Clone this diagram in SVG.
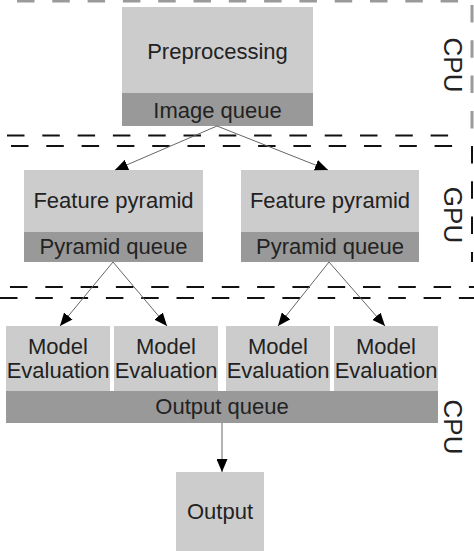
<svg xmlns="http://www.w3.org/2000/svg" width="474" height="551" viewBox="0 0 474 551">
<defs>
<style>
.lt{fill:#cccccc}
.dk{fill:#999999}
.t{font-family:"Liberation Sans",Arial,sans-serif;font-size:22px;fill:#222;text-anchor:middle}
.side{font-family:"Liberation Sans",Arial,sans-serif;font-size:26px;fill:#222;text-anchor:middle}
.dash{stroke:#111;stroke-width:2;stroke-dasharray:17.5 17.8;fill:none}
.gdash{stroke:#9a9a9a;stroke-width:3;stroke-dasharray:17.5 17.8;fill:none}
.conn{stroke:#666;stroke-width:1;fill:none;marker-end:url(#ah)}
</style>
<marker id="ah" markerUnits="userSpaceOnUse" markerWidth="14" markerHeight="11" refX="13" refY="5.5" orient="auto">
<path d="M0,0 L13,5.5 L0,11 z" fill="#000"/>
</marker>
</defs>
<g id="separators">
<line class="gdash" x1="17" y1="1" x2="462" y2="1"/>
<line class="gdash" x1="472" y1="5" x2="472" y2="130"/>
<line class="dash" x1="7" y1="135.5" x2="463" y2="135.5"/>
<line class="dash" x1="11" y1="146" x2="453" y2="146"/>
<line class="dash" x1="472" y1="146" x2="472" y2="262"/>
<line class="dash" x1="10" y1="287" x2="474" y2="287"/>
<line class="dash" x1="0" y1="298" x2="474" y2="298"/>
</g>
<g id="labels">
<text class="side" x="444" y="65" transform="rotate(90 444 65)">CPU</text>
<text class="side" x="444" y="215" transform="rotate(90 444 215)">GPU</text>
<text class="side" x="444" y="427" transform="rotate(90 444 427)">CPU</text>
</g>
<g id="preprocessing">
<rect class="lt" x="122" y="7" width="191" height="86"/>
<rect class="dk" x="122" y="93" width="191" height="33"/>
<text class="t" x="217.5" y="59">Preprocessing</text>
<text class="t" x="217.5" y="118">Image queue</text>
</g>
<g id="pyramid1">
<rect class="lt" x="24" y="170" width="179" height="62"/>
<rect class="dk" x="24" y="232" width="179" height="30"/>
<text class="t" x="113.5" y="208">Feature pyramid</text>
<text class="t" x="113.5" y="254">Pyramid queue</text>
</g>
<g id="pyramid2">
<rect class="lt" x="241" y="170" width="178" height="62"/>
<rect class="dk" x="241" y="232" width="178" height="30"/>
<text class="t" x="330" y="208">Feature pyramid</text>
<text class="t" x="330" y="254">Pyramid queue</text>
</g>
<g id="model1">
<rect class="lt" x="6" y="326" width="104" height="65"/>
<text class="t" x="58" y="354">Model</text>
<text class="t" x="58" y="378">Evaluation</text>
</g>
<g id="model2">
<rect class="lt" x="114" y="326" width="104" height="65"/>
<text class="t" x="166" y="354">Model</text>
<text class="t" x="166" y="378">Evaluation</text>
</g>
<g id="model3">
<rect class="lt" x="226" y="326" width="104" height="65"/>
<text class="t" x="278" y="354">Model</text>
<text class="t" x="278" y="378">Evaluation</text>
</g>
<g id="model4">
<rect class="lt" x="334" y="326" width="104" height="65"/>
<text class="t" x="386" y="354">Model</text>
<text class="t" x="386" y="378">Evaluation</text>
</g>
<g id="outputqueue">
<rect class="dk" x="6" y="391" width="432" height="32"/>
<text class="t" x="222" y="414">Output queue</text>
</g>
<g id="output">
<rect class="lt" x="176" y="472" width="88" height="79"/>
<text class="t" x="220" y="519">Output</text>
</g>
<g id="connectors">
<line class="conn" x1="217" y1="126" x2="115" y2="170"/>
<line class="conn" x1="217" y1="126" x2="328" y2="170"/>
<line class="conn" x1="113" y1="262" x2="60" y2="326"/>
<line class="conn" x1="113" y1="262" x2="167" y2="326"/>
<line class="conn" x1="329" y1="262" x2="278" y2="326"/>
<line class="conn" x1="329" y1="262" x2="385" y2="326"/>
<line class="conn" x1="222" y1="423" x2="222" y2="472"/>
</g>
</svg>
